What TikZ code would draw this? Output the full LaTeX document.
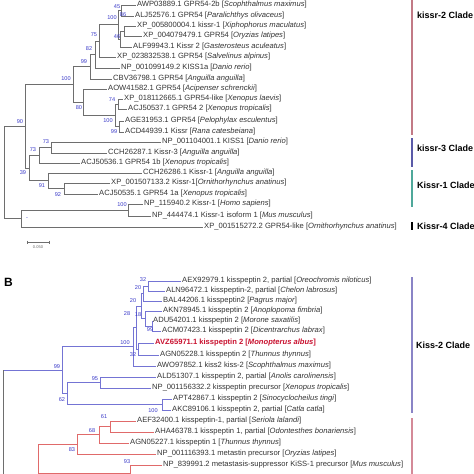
\documentclass[tikz,border=0pt]{standalone}
\usepackage{fontspec}
\setmainfont{Liberation Sans}
\definecolor{treegray}{HTML}{6E6E6E}
\definecolor{bootblue}{HTML}{3A3AC8}
\definecolor{kisstwo}{HTML}{7474D4}
\definecolor{kissone}{HTML}{E06A6A}
\definecolor{leafred}{HTML}{C8102E}
\definecolor{barrose}{HTML}{C27A86}
\definecolor{barslate}{HTML}{5A5AA8}
\definecolor{barteal}{HTML}{4FA89A}
\definecolor{barlav}{HTML}{8A84C6}
\definecolor{barpink}{HTML}{D48A98}

\begin{document}
\begin{tikzpicture}[x=1pt, y=-1pt,
    every node/.style={font=\fontsize{7.6}{9}\selectfont, inner sep=0pt},
    leaf/.style={anchor=west, inner xsep=1pt, text=black!80},
    boot/.style={font=\fontsize{5.6}{6}\selectfont, text=bootblue},
    treeA/.style={draw=treegray, line width=0.6pt},
    treeKtwo/.style={draw=kisstwo, line width=0.6pt},
    treeKone/.style={draw=kissone, line width=0.6pt},
    cladebar/.style={line width=1.3pt},
    cladename/.style={anchor=west, font=\fontsize{9}{10}\selectfont\bfseries}]
  \useasboundingbox (0,0) rectangle (474,474);
  \clip (0,0) rectangle (474,474);

  % A: leaves
  \node[leaf] (awp)  at (136,5)   {AWP03889.1 GPR54-2b [\textit{Scophthalmus maximus}]};
  \node[leaf] (alj)  at (134,16)  {ALJ52576.1 GPR54 [\textit{Paralichthys olivaceus}]};
  \node[leaf] (xpa)  at (136,26)  {XP\_005800004.1 kissr-1 [\textit{Xiphophorus maculatus}]};
  \node[leaf] (xpb)  at (142,36)  {XP\_004079479.1 GPR54 [\textit{Oryzias latipes}]};
  \node[leaf] (alf)  at (132,47)  {ALF99943.1 Kissr 2 [\textit{Gasterosteus aculeatus}]};
  \node[leaf] (xps)  at (116,57)  {XP\_023832538.1 GPR54 [\textit{Salvelinus alpinus}]};
  \node[leaf] (npd)  at (120,68)  {NP\_001099149.2 KISS1a [\textit{Danio rerio}]};
  \node[leaf] (cbv)  at (112,79)  {CBV36798.1 GPR54 [\textit{Anguilla anguilla}]};
  \node[leaf] (aow)  at (107,89)  {AOW41582.1 GPR54 [\textit{Acipenser schrenckii}]};
  \node[leaf] (xpl)  at (123,99)  {XP\_018112665.1 GPR54-like [\textit{Xenopus laevis}]};
  \node[leaf] (acjb) at (127,109) {ACJ50537.1 GPR54 2 [\textit{Xenopus tropicalis}]};
  \node[leaf] (age)  at (124,121) {AGE31953.1 GPR54 [\textit{Pelophylax esculentus}]};
  \node[leaf] (acd)  at (124,132) {ACD44939.1 Kissr [\textit{Rana catesbeiana}]};
  \node[leaf] (npk)  at (161,142) {NP\_001104001.1 KISS1 [\textit{Danio rerio}]};
  \node[leaf] (ccha) at (107,153) {CCH26287.1 Kissr-3 [\textit{Anguilla anguilla}]};
  \node[leaf] (acja) at (80,163)  {ACJ50536.1 GPR54 1b [\textit{Xenopus tropicalis}]};
  \node[leaf] (cchb) at (142,173) {CCH26286.1 Kissr-1 [\textit{Anguilla anguilla}]};
  \node[leaf] (xpo)  at (110,183) {XP\_001507133.2 Kissr-1[\textit{Ornithorhynchus anatinus}]};
  \node[leaf] (acjc) at (98,194)  {ACJ50535.1 GPR54 1a [\textit{Xenopus tropicalis}]};
  \node[leaf] (nph)  at (143,204) {NP\_115940.2 Kissr-1 [\textit{Homo sapiens}]};
  \node[leaf] (npm)  at (151,216) {NP\_444474.1 Kissr-1 isoform 1 [\textit{Mus musculus}]};
  \node[leaf] (xpg)  at (203,227) {XP\_001515272.2 GPR54-like [\textit{Ornithorhynchus anatinus}]};

  % A: inner nodes
  \coordinate (a1) at (121,10.5);
  \coordinate (a2) at (124,31);
  \coordinate (a3) at (120,39);
  \coordinate (a4) at (118,24.75);
  \coordinate (a5) at (99,40.9);
  \coordinate (a6) at (95,54.4);
  \coordinate (a7) at (90,66.7);
  \coordinate (b1) at (118,104);
  \coordinate (b2) at (119,126.5);
  \coordinate (b3) at (115,115.25);
  \coordinate (b4) at (83,102.1);
  \coordinate (a8) at (73,84.4);
  \coordinate (c1) at (51,147.5);
  \coordinate (c2) at (39,155.25);
  \coordinate (d1) at (64,188.5);
  \coordinate (d2) at (48,180.75);
  \coordinate (c3) at (29,168);
  \coordinate (a9) at (25,126.2);
  \coordinate (e1) at (128,210);
  \coordinate (e2) at (21,218.5);
  \coordinate (ra) at (4,172);

  \draw[treeA] (a1) |- (awp.west) (a1) |- (alj.west);
  \draw[treeA] (a2) |- (xpa.west) (a2) |- (xpb.west);
  \draw[treeA] (a3) |- (a2) (a3) |- (alf.west);
  \draw[treeA] (a4) |- (a1) (a4) |- (a3);
  \draw[treeA] (a5) |- (a4) (a5) |- (xps.west);
  \draw[treeA] (a6) |- (a5) (a6) |- (npd.west);
  \draw[treeA] (a7) |- (a6) (a7) |- (cbv.west);
  \draw[treeA] (b1) |- (xpl.west) (b1) |- (acjb.west);
  \draw[treeA] (b2) |- (age.west) (b2) |- (acd.west);
  \draw[treeA] (b3) |- (b1) (b3) |- (b2);
  \draw[treeA] (b4) |- (aow.west) (b4) |- (b3);
  \draw[treeA] (a8) |- (a7) (a8) |- (b4);
  \draw[treeA] (c1) |- (npk.west) (c1) |- (ccha.west);
  \draw[treeA] (c2) |- (c1) (c2) |- (acja.west);
  \draw[treeA] (d1) |- (xpo.west) (d1) |- (acjc.west);
  \draw[treeA] (d2) |- (cchb.west) (d2) |- (d1);
  \draw[treeA] (c3) |- (c2) (c3) |- (d2);
  \draw[treeA] (a9) |- (a8) (a9) |- (c3);
  \draw[treeA] (e1) |- (nph.west) (e1) |- (npm.west);
  \draw[treeA] (e2) |- (e1) (e2) |- (xpg.west);
  \draw[treeA] (ra) |- (a9) (ra) |- (e2);

  % A: bootstrap values
  \foreach \bx/\by/\bv [count=\i] in {117/7/45, 123/15/86, 112/18/100, 117/37/46,
      94/35/75, 89/49/82, 84/62/99, 66/79/100, 79/108/80, 112/100/74,
      108/121/100, 114/132/99, 20/122/90, 46/142/73, 33/150/73, 23/173/39,
      42/186/91, 58/195/92, 122/205/100, 27/219/-}
    \node[boot] (bsa\i) at (\bx,\by) {\bv};

  % A: scale bar
  \draw[treegray, line width=0.6pt] (27,240.5) -- (27,243.5) (27,242) -- (49,242) (49,240.5) -- (49,243.5);
  \node[font=\fontsize{4}{5}\selectfont, text=black!60] (scl) at (38,247) {0.050};

  % A: clades
  \draw[cladebar, barrose]  (412,0)   -- (412,135);
  \draw[cladebar, barslate] (412,138) -- (412,167);
  \draw[cladebar, barteal]  (412,170) -- (412,207);
  \draw[cladebar, black]    (412,222) -- (412,230);
  \node[cladename] (ckb) at (417,15)  {kissr-2 Clade};
  \node[cladename] (ckc) at (417,148) {kissr-3 Clade};
  \node[cladename] (cka) at (417,185) {Kissr-1 Clade};
  \node[cladename] (ckd) at (417,226) {Kissr-4 Clade};

  % B
  \node[font=\fontsize{12}{14}\selectfont\bfseries, anchor=west] (lblb) at (4,282) {B};

  \node[leaf] (aex)  at (181,281) {AEX92979.1 kisspeptin 2, partial [\textit{Oreochromis niloticus}]};
  \node[leaf] (aln)  at (165,291) {ALN96472.1 kisspeptin-2, partial [\textit{Chelon labrosus}]};
  \node[leaf] (bal)  at (162,301) {BAL44206.1 kisspeptin2 [\textit{Pagrus major}]};
  \node[leaf] (akn)  at (162,311) {AKN78945.1 kisspeptin 2 [\textit{Anoplopoma fimbria}]};
  \node[leaf] (adu)  at (152,321) {ADU54201.1 kisspeptin 2 [\textit{Morone saxatilis}]};
  \node[leaf] (acm)  at (161,331) {ACM07423.1 kisspeptin 2 [\textit{Dicentrarchus labrax}]};
  \node[leaf, text=leafred, font=\fontsize{7.6}{9}\selectfont\bfseries] (avz) at (154,343) {AVZ65971.1 kisspeptin 2 [\textit{Monopterus albus}]};
  \node[leaf] (agnb) at (159,355) {AGN05228.1 kisspeptin 2 [\textit{Thunnus thynnus}]};
  \node[leaf] (awo)  at (156,366) {AWO97852.1 kiss2 kiss-2 [\textit{Scophthalmus maximus}]};
  \node[leaf] (ald)  at (156,377) {ALD51307.1 kisspeptin 2, partial [\textit{Anolis carolinensis}]};
  \node[leaf] (npx)  at (151,388) {NP\_001156332.2 kisspeptin precursor [\textit{Xenopus tropicalis}]};
  \node[leaf] (apt)  at (172,399) {APT42867.1 kisspeptin 2 [\textit{Sinocyclocheilus tingi}]};
  \node[leaf] (akc)  at (171,410) {AKC89106.1 kisspeptin 2, partial [\textit{Catla catla}]};
  \node[leaf] (aef)  at (136,421) {AEF32400.1 kisspeptin-1, partial [\textit{Seriola lalandi}]};
  \node[leaf] (aha)  at (154,432) {AHA46378.1 kisspeptin 1, partial [\textit{Odontesthes bonariensis}]};
  \node[leaf] (agna) at (129,443) {AGN05227.1 kisspeptin 1 [\textit{Thunnus thynnus}]};
  \node[leaf] (npo)  at (156,454) {NP\_001116393.1 metastin precursor [\textit{Oryzias latipes}]};
  \node[leaf] (npmm) at (162,465) {NP\_839991.2 metastasis-suppressor KiSS-1 precursor [\textit{Mus musculus}]};

  % B: inner nodes
  \coordinate (kb1) at (148,286);
  \coordinate (kb2) at (143,293.5);
  \coordinate (kb3) at (152,326);
  \coordinate (kb4) at (145,318.5);
  \coordinate (kb5) at (141,306);
  \coordinate (kb6) at (138,349);
  \coordinate (kb7) at (136,327.5);
  \coordinate (kb8) at (133,346.75);
  \coordinate (kc1) at (100,382.5);
  \coordinate (kc2) at (162,404.5);
  \coordinate (kc3) at (67,393.5);
  \coordinate (kb)  at (62,370.1);
  \coordinate (m1) at (110,426.5);
  \coordinate (m2) at (99,434.75);
  \coordinate (m3) at (77,444.4);
  \coordinate (m5) at (130,473);
  \coordinate (m4) at (38,482);
  \coordinate (hid) at (170,481);
  \coordinate (rb) at (3,482);

  \draw[treeKtwo] (kb1) |- (aex.west) (kb1) |- (aln.west);
  \draw[treeKtwo] (kb2) |- (kb1) (kb2) |- (bal.west);
  \draw[treeKtwo] (kb3) |- (adu.west) (kb3) |- (acm.west);
  \draw[treeKtwo] (kb4) |- (akn.west) (kb4) |- (kb3);
  \draw[treeKtwo] (kb5) |- (kb2) (kb5) |- (kb4);
  \draw[treeKtwo] (kb6) |- (avz.west) (kb6) |- (agnb.west);
  \draw[treeKtwo] (kb7) |- (kb5) (kb7) |- (kb6);
  \draw[treeKtwo] (kb8) |- (kb7) (kb8) |- (awo.west);
  \draw[treeKtwo] (kc1) |- (ald.west) (kc1) |- (npx.west);
  \draw[treeKtwo] (kc2) |- (apt.west) (kc2) |- (akc.west);
  \draw[treeKtwo] (kc3) |- (kc1) (kc3) |- (kc2);
  \draw[treeKtwo] (kb) |- (kb8) (kb) |- (kc3);
  \draw[treeKtwo] (rb |- kb) -- (kb);
  \draw[treeA] (rb) -- (rb |- kb);
  \draw[treeKone] (m1) |- (aef.west) (m1) |- (aha.west);
  \draw[treeKone] (m2) |- (m1) (m2) |- (agna.west);
  \draw[treeKone] (m3) |- (m2) (m3) |- (npo.west);
  \draw[treeKone] (m5) |- (npmm.west) (m5) |- (hid);
  \draw[treeKone] (m4) |- (m3) (m4) |- (m5);

  % B: bootstrap values
  \foreach \bx/\by/\bv [count=\i] in {143/280/32, 138/288/20, 133/301/20, 127/314/28,
      138/315/18, 150/330/99, 125/343/100, 133/355/32, 57/367/99, 95/379/95,
      62/400/62, 153/411/100, 104/417/61, 92/431/68, 72/450/83, 127/462/93}
    \node[boot] (bsb\i) at (\bx,\by) {\bv};

  % B: clades
  \draw[cladebar, barlav]  (412,277) -- (412,413);
  \draw[cladebar, barpink] (412,418) -- (412,474);
  \node[cladename] (ckt) at (416,345) {Kiss-2 Clade};
\end{tikzpicture}
\end{document}
